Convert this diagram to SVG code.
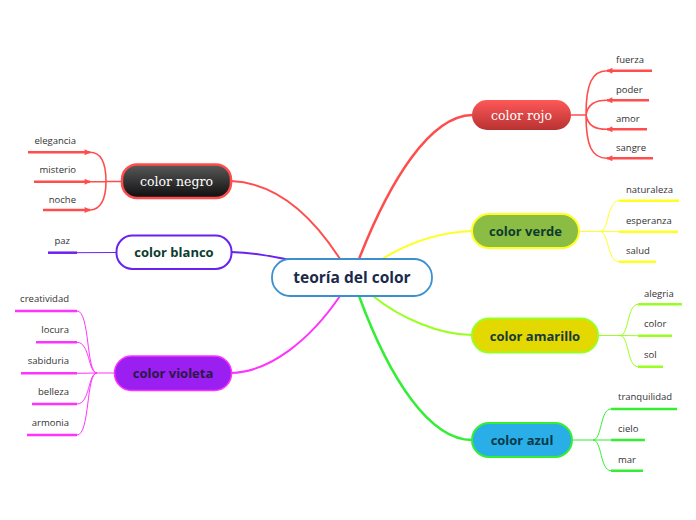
<svg xmlns="http://www.w3.org/2000/svg" width="696" height="520" viewBox="0 0 696 520">
<defs>
<linearGradient id="gRed" x1="0" y1="0" x2="0" y2="1"><stop offset="0" stop-color="#ff5858"/><stop offset="1" stop-color="#b83232"/></linearGradient>
<linearGradient id="gBlack" x1="0" y1="0" x2="0" y2="1"><stop offset="0" stop-color="#5a5a5a"/><stop offset="1" stop-color="#0e0e0e"/></linearGradient>
<marker id="arr" viewBox="0 0 10 10" refX="9" refY="5" markerUnits="userSpaceOnUse" markerWidth="7" markerHeight="6" orient="auto-start-reverse"><path d="M0,0 L10,5 L0,10 z" fill="#ff4d4d"/></marker>
</defs>
<style>
.leaf{font-family:"Open Sans","Noto Sans",sans-serif;font-size:9.5px;fill:#333}
.lbl{font-family:"Open Sans","Noto Sans",sans-serif;font-size:13px;font-weight:bold;text-anchor:middle}
.ser{font-family:"DejaVu Serif","Liberation Serif",serif;font-size:12.5px;fill:#fff;text-anchor:middle}
.c{fill:none}
.u{fill:none;stroke-width:2.5}
.r{stroke:#ff4d4d}.y{stroke:#ffff22}.l{stroke:#99ff22}.g{stroke:#33ee33}.p{stroke:#6a22ee}.m{stroke:#ff33ff}
.end{text-anchor:end}
</style>
<g id="connectors">
<path class="c r" stroke-width="2" d="M231,181 C280,183 315,220 340,259"/>
<path class="c r" stroke-width="2.5" d="M359,259 C390,180 430,116 472,115"/>
<path class="c y" stroke-width="2" d="M382,259 C410,242 440,232 472,231"/>
<path class="c p" stroke-width="2" d="M231,252 C255,253 270,256 290,260"/>
<path class="c m" stroke-width="2" d="M340,296 C310,340 270,372 231,373"/>
<path class="c g" stroke-width="2.5" d="M359,296 C390,380 430,440 472,440"/>
<path class="c l" stroke-width="2" d="M373,296 C400,318 440,335 472,335"/>
<!-- rojo leaves -->
<path class="c r" stroke-width="1.6" d="M571,115 L586,115 M586,115 C586,84 592,70.7 607,70.7 M586,115 C588,104 595,100.3 607,100.3 M586,115 C588,126 595,129.3 607,129.3 M586,115 C586,146 592,158.3 607,158.3"/>
<path class="u r" marker-start="url(#arr)" d="M607,70.7 L652,70.7"/>
<path class="u r" marker-start="url(#arr)" d="M607,100.3 L649,100.3"/>
<path class="u r" marker-start="url(#arr)" d="M607,129.3 L647,129.3"/>
<path class="u r" marker-start="url(#arr)" d="M607,158.3 L653,158.3"/>
<!-- negro leaves -->
<path class="c r" stroke-width="1.6" d="M122,181.5 L106,181.5 M106,181.5 C106,162 100,152.3 90,152.3 M106,181.5 L90,181.7 M106,181.5 C106,200 100,210 90,210"/>
<path class="u r" marker-end="url(#arr)" d="M28,152.3 L90,152.3"/>
<path class="u r" marker-end="url(#arr)" d="M34,181.7 L90,181.7"/>
<path class="u r" marker-end="url(#arr)" d="M43,210 L90,210"/>
<!-- verde leaves -->
<path class="c y" stroke-width="1" d="M579,231.5 L600,231.5 M600,231.5 C609,231.5 607,200.7 619,200.7 M600,231.5 L619,231.7 M600,231.5 C609,231.5 607,261.7 619,261.7"/>
<path class="u y" d="M619,200.7 L679,200.7 M619,231.7 L678,231.7 M619,261.7 L656,261.7"/>
<!-- amarillo leaves -->
<path class="c l" stroke-width="1" d="M598,335.5 L620,335.5 M620,335.5 C629,335.5 627,304.3 638,304.3 M620,335.5 L638,335.7 M620,335.5 C629,335.5 627,366.7 638,366.7"/>
<path class="u l" d="M638,304.3 L682,304.3 M638,335.7 L672,335.7 M638,366.7 L663,366.7"/>
<!-- azul leaves -->
<path class="c g" stroke-width="1" d="M572,440 L593,440 M593,440 C602,440 600,409 611,409 M593,440 L611,440 M593,440 C602,440 600,470.7 611,470.7"/>
<path class="u g" d="M611,409 L677,409 M611,440 L645,440 M611,470.7 L643,470.7"/>
<!-- blanco leaf -->
<path class="c p" stroke-width="1" d="M116,252.5 L77,252.7"/>
<path class="u p" d="M48,252.7 L77,252.7"/>
<!-- violeta leaves -->
<path class="c m" stroke-width="1" d="M114,373 L97,373 M97,373 C86,373 90,311 77,311 M97,373 C88,373 90,342.3 77,342.3 M97,373 L77,373.3 M97,373 C88,373 90,404 77,404 M97,373 C86,373 90,435 77,435"/>
<path class="u m" d="M15,311 L77,311 M36,342.3 L77,342.3 M21,373.3 L77,373.3 M32,404 L77,404 M27,435 L77,435"/>
</g>
<g id="center">
<rect x="272" y="259" width="160" height="37" rx="18" fill="#fff" stroke="#3a8fd0" stroke-width="1.8"/>
<text x="352" y="283" class="lbl" style="font-size:15.5px" fill="#1a2a4a">teoría del color</text>
</g>
<g id="rojo">
<rect x="472" y="100" width="99" height="30" rx="15" fill="url(#gRed)"/>
<text x="521.5" y="119.5" class="ser">color rojo</text>
</g>
<g id="negro">
<rect x="122" y="164.5" width="109" height="33.5" rx="15" fill="url(#gBlack)" stroke="#ff4d4d" stroke-width="2.5"/>
<text x="176.5" y="186" class="ser">color negro</text>
</g>
<g id="blanco">
<rect x="116.5" y="235.5" width="115" height="33.5" rx="16" fill="#fff" stroke="#6a22ee" stroke-width="2"/>
<text x="174" y="257" class="lbl" fill="#0d3b2e">color blanco</text>
</g>
<g id="violeta">
<rect x="114.5" y="356" width="117" height="34.5" rx="17" fill="#9b1ff0" stroke="#ff33ff" stroke-width="1.5"/>
<text x="173" y="378" class="lbl" fill="#2a1a4a">color violeta</text>
</g>
<g id="verde">
<rect x="472" y="214" width="107" height="34" rx="17" fill="#8bbc44" stroke="#ffff22" stroke-width="2"/>
<text x="525.5" y="236" class="lbl" fill="#0d3b2e">color verde</text>
</g>
<g id="amarillo">
<rect x="472" y="318.5" width="126" height="34" rx="17" fill="#e3d800" stroke="#99ff22" stroke-width="2"/>
<text x="535" y="340.5" class="lbl" fill="#173a3a">color amarillo</text>
</g>
<g id="azul">
<rect x="472" y="423" width="100" height="34" rx="17" fill="#29aee8" stroke="#33ee33" stroke-width="2"/>
<text x="522" y="445" class="lbl" fill="#0a3a4a">color azul</text>
</g>
<g id="leaves">
<text class="leaf" x="616" y="63">fuerza</text>
<text class="leaf" x="616" y="93">poder</text>
<text class="leaf" x="616" y="122">amor</text>
<text class="leaf" x="616" y="151">sangre</text>
<text class="leaf end" x="76" y="144">elegancia</text>
<text class="leaf end" x="76" y="173">misterio</text>
<text class="leaf end" x="76" y="203">noche</text>
<text class="leaf" x="626" y="193">naturaleza</text>
<text class="leaf" x="626" y="224">esperanza</text>
<text class="leaf" x="626" y="254">salud</text>
<text class="leaf" x="644" y="297">alegria</text>
<text class="leaf" x="644" y="327">color</text>
<text class="leaf" x="644" y="358">sol</text>
<text class="leaf" x="618" y="400">tranquilidad</text>
<text class="leaf" x="618" y="432">cielo</text>
<text class="leaf" x="618" y="463">mar</text>
<text class="leaf end" x="70" y="244">paz</text>
<text class="leaf end" x="69" y="302">creatividad</text>
<text class="leaf end" x="69" y="333">locura</text>
<text class="leaf end" x="69" y="364">sabiduria</text>
<text class="leaf end" x="69" y="395">belleza</text>
<text class="leaf end" x="69" y="426">armonia</text>
</g>
</svg>
